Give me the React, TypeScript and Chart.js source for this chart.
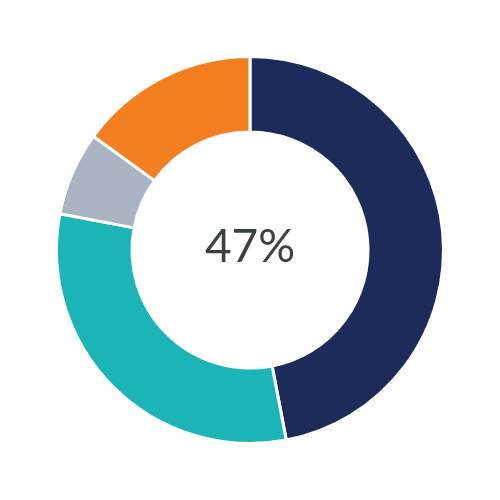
import React, { useRef, useEffect } from "react";
import { Chart, registerables } from "chart.js";

Chart.register(...registerables);

const labels = ["Navy", "Teal", "Gray", "Orange"];
const values = [47, 31, 7, 15];
const colors = ["#1c2b5a", "#1bb4b7", "#a9b3c2", "#f37f21"];
const centerText = "47%";

const centerLabel = {
  id: "centerLabel",
  afterDraw(chart: any) {
    const { ctx, chartArea } = chart;
    const cx = (chartArea.left + chartArea.right) / 2;
    const cy = (chartArea.top + chartArea.bottom) / 2;
    ctx.save();
    ctx.font = "400 46px Lato";
    ctx.fillStyle = "#3a4246";
    ctx.textAlign = "center";
    ctx.textBaseline = "middle";
    ctx.fillText(centerText, cx, cy - 3);
    ctx.restore();
  },
};

const App = () => {
  const chartRef = useRef<any>(null);
  const chartInstanceRef = useRef<any>(null);

  useEffect(() => {
    document.body.style.margin = "0";
    const ctx = chartRef.current.getContext("2d");
    if (chartInstanceRef.current) {
      chartInstanceRef.current.destroy();
    }
    chartInstanceRef.current = new Chart(ctx, {
      type: "doughnut",
      data: {
        labels,
        datasets: [
          {
            data: values,
            backgroundColor: colors,
            borderColor: "#ffffff",
            borderWidth: 3,
          },
        ],
      },
      options: {
        animation: false,
        responsive: true,
        maintainAspectRatio: false,
        cutout: "61%",
        layout: { padding: { top: 55, bottom: 55, left: 55, right: 55 } },
        plugins: {
          legend: { display: false },
          tooltip: { enabled: false },
        },
      },
      plugins: [centerLabel],
    });
    return () => {
      if (chartInstanceRef.current) {
        chartInstanceRef.current.destroy();
      }
    };
  }, []);

  return (
    <div style={{ width: 500, height: 500, position: "relative" }}>
      <canvas ref={chartRef} />
    </div>
  );
};

export default App;
